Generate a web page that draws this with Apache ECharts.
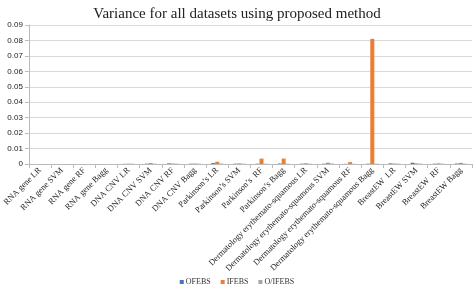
<!DOCTYPE html>
<html>
<head>
<meta charset="utf-8">
<script src="https://cdn.jsdelivr.net/npm/echarts@6/dist/echarts.min.js"></script>
<style>
html,body{margin:0;padding:0;background:#fff;}
#chart{width:474px;height:291px;}
</style>
</head>
<body>
<div id="chart"></div>
<script>
var categories = [
    'RNA gene LR', 'RNA gene SVM', 'RNA gene RF', 'RNA gene Bagg',
    'DNA CNV LR', 'DNA CNV SVM', 'DNA CNV RF', 'DNA CNV Bagg',
    'Parkinson\u2019s LR', 'Parkinson\u2019s SVM', 'Parkinson\u2019s  RF', 'Parkinson\u2019s Bagg',
    'Dermatology erythemato-squamous LR', 'Dermatology erythemato-squamous SVM',
    'Dermatology erythemato-squamous RF', 'Dermatology erythemato-squamous Bagg',
    'BreastEW  LR', 'BreastEW SVM', 'BreastEW  RF', 'BreastEW Bagg'
];
var ofebs = [0, 0, 0, 0, 0.0001, 0.0002, 0.0004, 0.0002, 0.0006, 0.0002, 0.0002, 0.0003, 0.0002, 0.0002, 0.0001, 0.0002, 0.0004, 0.0008, 0.0002, 0.0003];
var ifebs = [0, 0, 0, 0, 0.0002, 0.0006, 0.0003, 0.0003, 0.0015, 0.0004, 0.0035, 0.0035, 0.0005, 0.0008, 0.0012, 0.081, 0.0003, 0.0004, 0.0004, 0.0007];
var oifebs = [0, 0, 0, 0, 0.0002, 0.0002, 0.0002, 0.0002, 0.0003, 0.0002, 0.0002, 0.0002, 0.0002, 0.0003, 0.0001, 0.0002, 0.0002, 0.0002, 0.0002, 0.0002];

var myChart = echarts.init(document.getElementById('chart'));
var option = {
    animation: false,
    title: {
        text: 'Variance for all datasets using proposed method',
        left: 'center',
        top: 2,
        textStyle: {fontFamily: 'Liberation Serif', fontSize: 15, fontWeight: 'normal', color: '#222'}
    },
    legend: {
        bottom: 0,
        left: 'center',
        itemWidth: 4,
        itemHeight: 4,
        itemGap: 10,
        icon: 'rect',
        textStyle: {fontFamily: 'Liberation Serif', fontSize: 8, color: '#333', padding: [0, 0, 0, -3]},
        data: ['OFEBS', 'IFEBS', 'O/IFEBS']
    },
    grid: {left: 26, right: 2, top: 25, bottom: 127, containLabel: false},
    xAxis: {
        type: 'category',
        data: categories,
        axisLine: {lineStyle: {color: '#bbb'}},
        axisTick: {show: true, length: 4, lineStyle: {color: '#bbb'}},
        axisLabel: {
            rotate: 45,
            interval: 0,
            margin: 5,
            fontFamily: 'Liberation Serif',
            fontSize: 8.5,
            color: '#222'
        }
    },
    yAxis: {
        type: 'value',
        min: 0,
        max: 0.09,
        interval: 0.01,
        axisLine: {show: true, lineStyle: {color: '#bbb'}},
        axisTick: {show: true, length: 4, lineStyle: {color: '#bbb'}},
        splitLine: {lineStyle: {color: '#d9d9d9'}},
        axisLabel: {
            fontFamily: 'Liberation Sans',
            fontSize: 8,
            color: '#222',
            margin: 6,
            formatter: function (v) { return v === 0 ? '0' : v.toFixed(2); }
        }
    },
    series: [
        {name: 'OFEBS', type: 'bar', data: ofebs, barWidth: 4, barGap: '0%', itemStyle: {color: '#4472C4'}},
        {name: 'IFEBS', type: 'bar', data: ifebs, barWidth: 4, barGap: '0%', itemStyle: {color: '#ED7D31'}},
        {name: 'O/IFEBS', type: 'bar', data: oifebs, barWidth: 4, barGap: '0%', itemStyle: {color: '#A5A5A5'}}
    ]
};
myChart.setOption(option);
</script>
</body>
</html>
